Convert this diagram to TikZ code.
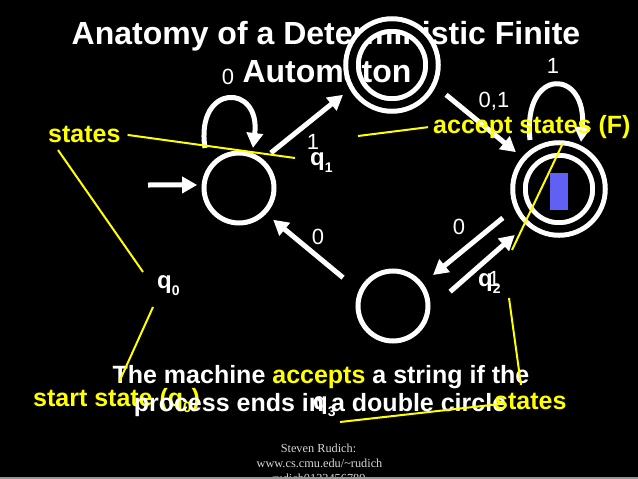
\documentclass[tikz,border=0pt]{standalone}
\usepackage{fontspec}
\setmainfont{Liberation Sans}
\newfontfamily\footfont{Liberation Serif}
\usetikzlibrary{arrows.meta}
\definecolor{slideyellow}{RGB}{255,255,0}
\definecolor{acceptblue}{RGB}{96,96,245}
\definecolor{footgray}{RGB}{215,215,215}
\definecolor{stripgray}{RGB}{150,150,150}
\newcommand{\qsub}[1]{q\raisebox{-7pt}{\fontsize{14}{14}\selectfont #1}}

\begin{document}
\begin{tikzpicture}[x=1pt,y=-1pt,
  dfastate/.style={circle,draw=white,line width=5pt,minimum size=70pt,inner sep=0pt,outer sep=0pt},
  dfaaccept/.style={dfastate,double=black,double distance=7.5pt,minimum size=80pt},
  arr/.style={draw=white,line width=5pt,-{Triangle[length=15pt,width=16pt]}},
  yline/.style={draw=slideyellow,line width=2pt},
  ttl/.style={text=white,font=\bfseries\fontsize{32}{36}\selectfont,inner sep=0pt,anchor=base},
  big/.style={text=white,font=\bfseries\fontsize{25}{30}\selectfont,inner sep=0pt,anchor=base},
  note/.style={text=slideyellow,font=\bfseries\fontsize{25}{30}\selectfont,inner sep=0pt,anchor=base west},
  sym/.style={text=white,font=\fontsize{22}{24}\selectfont,inner sep=0pt},
  qname/.style={text=white,font=\bfseries\fontsize{24}{26}\selectfont,inner sep=0pt,anchor=base west},
  foot/.style={text=footgray,font=\footfont\fontsize{12.3}{14}\selectfont,inner sep=0pt,anchor=base}]

\useasboundingbox (0,0) rectangle (638,479);
\fill[black] (0,0) rectangle (638,479);

% title
\node[ttl] (title1) at (326,44) {Anatomy of a Deterministic Finite};
\node[ttl] (title2) at (327,82) {Automaton};

% states
\node[dfastate] (q0) at (239,188) {};
\node[dfaaccept] (q1) at (392,65) {};
\node[dfaaccept] (q2) at (559,189) {};
\node[dfastate] (q3) at (393,306) {};
\fill[acceptblue] (550,173) rectangle (568,210);

% transitions
\coordinate (start) at (148,185);
\draw[arr, shorten >=7pt] (start) -- (q0.175);
\draw[arr, shorten <=12.6pt, shorten >=17.6pt] (q0.51) -- (q1.208);
\draw[arr, shorten <=22.3pt, shorten >=16.7pt] (q1.-23) -- (q2.139);
\draw[arr, shorten <=24pt, shorten >=15.6pt] (q2.200) -- (q3.37);
\draw[arr, shorten <=30pt, shorten >=24pt] (q3.-9) -- (q2.229);
\draw[arr, shorten <=23pt, shorten >=11.7pt] (q3.157) -- (q0.-44);
\draw[arr] ([shift={(-34,-40)}]q0.center) .. controls +(-10,-65) and +(8,-65) .. ([shift={(14,-40)}]q0.center);
\draw[arr] ([shift={(-29,-49)}]q2.center) .. controls +(-8,-74) and +(7,-74) .. ([shift={(22,-47)}]q2.center);

% labels
\node[sym] (l0a) at (228,77) {0};
\node[sym] (l1a) at (313,142) {1};
\node[sym] (l0b) at (318,237) {0};
\node[sym] (l01) at (494,101) {0,1};
\node[sym] (l1b) at (553,66) {1};
\node[sym] (l0c) at (459,227) {0};
\node[qname] (lq1) at (310,165) {\qsub{1}};
\node[qname] (lq0) at (157,288) {\qsub{0}};
\node[qname] (lq2) at (478,286) {\qsub{2}};
\node[sym] (l1c) at (494,279) {1};

% text
\node[note] (ss) at (33,406) {start state (q\raisebox{-6pt}{\fontsize{15}{15}\selectfont 0})};
\node[big] (body1) at (321,383) {The machine \textcolor{slideyellow}{accepts} a string if the};
\node[big] (body2) at (320,411) {process ends in a double circle};
\node[qname] (lq3) at (313,409) {\qsub{3}};
\node[note] (st1) at (48,142) {states};
\node[note] (acc) at (433,133) {accept states (F)};
\node[note] (st2) at (494,409) {states};

% pointers
\coordinate (c1) at (295,158);
\coordinate (c2a) at (58,150);
\coordinate (c2b) at (143,272);
\coordinate (c3) at (153,307);
\coordinate (c4) at (358,136);
\coordinate (c5a) at (563,143);
\coordinate (c5b) at (512,250);
\coordinate (c6a) at (509,298);
\coordinate (c6b) at (521,385);
\coordinate (c7a) at (340,422);
\coordinate (c7b) at (500,404);
\draw[yline, shorten <=7pt] (st1.east) -- (c1);
\draw[yline] (c2a) -- (c2b);
\draw[yline, shorten >=7pt] (c3) -- (ss.north);
\draw[yline, shorten >=5pt] (c4) -- (acc.west);
\draw[yline] (c5a) -- (c5b);
\draw[yline] (c6a) -- (c6b);
\draw[yline] (c7a) -- (c7b);

% footer
\node[foot] (f1) at (318.5,452) {Steven Rudich:};
\node[foot] (f2) at (319.5,467) {www.cs.cmu.edu/\textasciitilde rudich};
\node[foot] (f3) at (319,482) {rudich0123456789};
\fill[stripgray] (0,477) rectangle (638,479);

\end{tikzpicture}
\end{document}
